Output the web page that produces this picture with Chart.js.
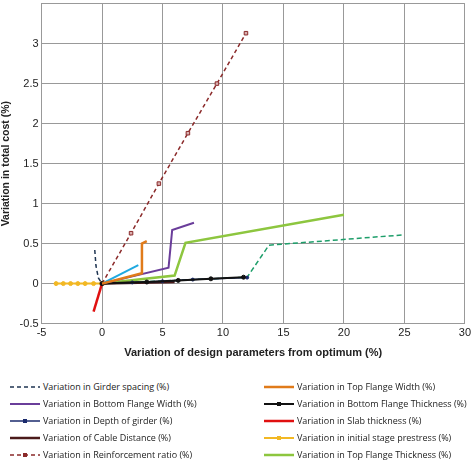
<!DOCTYPE html>
<html>
<head>
<meta charset="utf-8">
<script src="https://cdn.jsdelivr.net/npm/chart.js@4/dist/chart.umd.min.js"></script>
<style>
  body { margin: 0; background: #fff; font-family: "Open Sans", sans-serif; }
  #wrap { position: relative; width: 474px; height: 370px; margin-top: -6px; }
  #legend { display: grid; grid-template-columns: 254px 220px; row-gap: 4px; padding-left: 10px; margin-top: 16px; font-size: 9px; color: #222; }
  #legend div { display: flex; align-items: center; white-space: nowrap; }
  #legend canvas { margin-right: 3px; }
</style>
</head>
<body>
<div id="wrap"><canvas id="c"></canvas></div>
<div id="legend"></div>
<script>
// x = variation of design parameter (%), y = variation in total cost (%)
const girderX = [-0.6, -0.5, -0.3, 0];
const girderY = [0.42, 0.22, 0.07, 0];
const topWidthX = [0, 3.3, 3.3, 3.7];
const topWidthY = [0, 0.13, 0.5, 0.53];
const botWidthX = [0, 5.5, 5.8, 7.6];
const botWidthY = [0, 0.2, 0.67, 0.76];
const botThickX = [0, 3.7, 6.3, 9, 11.7];
const botThickY = [0, 0.02, 0.04, 0.06, 0.08];
const depthX = [0, 2.5, 5, 7.5, 12];
const depthY = [0, 0.015, 0.03, 0.05, 0.075];
const slabX = [0, -0.7];
const slabY = [0, -0.35];
const cableX = [0, 6];
const cableY = [0, 0.02];
const prestressX = [-3.8, -3.2, -2.6, -2, -1.4, -0.7, 0];
const prestressY = [0, 0, 0, 0, 0, 0, 0];
const reinfX = [0, 2.4, 4.7, 7.1, 9.5, 11.9];
const reinfY = [0, 0.63, 1.25, 1.88, 2.5, 3.13];
const topThickX = [0, 6, 6.9, 20];
const topThickY = [0, 0.1, 0.51, 0.86];
const cyanX = [0, 3.0];
const cyanY = [0, 0.23];
const tealX = [0, 12, 13.8, 25];
const tealY = [0, 0.08, 0.48, 0.61];

function pts(xs, ys) { return xs.map((x, i) => ({ x: x, y: ys[i] })); }

// order = legend order (row by row, two columns)
const series = [
  { label: 'Variation in Girder spacing (%)', d: pts(girderX, girderY), color: '#1f3552', dash: [4, 3], w: 1.5 },
  { label: 'Variation in Top Flange Width (%)', d: pts(topWidthX, topWidthY), color: '#e07b1a', w: 2.5 },
  { label: 'Variation in Bottom Flange Width (%)', d: pts(botWidthX, botWidthY), color: '#6a3d9a', w: 2 },
  { label: 'Variation in Bottom Flange Thickness (%)', d: pts(botThickX, botThickY), color: '#111', w: 2, pr: 2 },
  { label: 'Variation in Depth of girder (%)', d: pts(depthX, depthY), color: '#1a2a6c', w: 1.5, pr: 1.5 },
  { label: 'Variation in Slab thickness (%)', d: pts(slabX, slabY), color: '#e01010', w: 2.5 },
  { label: 'Variation of Cable Distance (%)', d: pts(cableX, cableY), color: '#4a1a1a', w: 2.5 },
  { label: 'Variation in initial stage prestress (%)', d: pts(prestressX, prestressY), color: '#f2b824', w: 2, pr: 2 },
  { label: 'Variation in Reinforcement ratio (%)', d: pts(reinfX, reinfY), color: '#8b2a2a', dash: [4, 3], w: 1.5, pr: 2.5, ps: 'rect', pbg: '#d9b0b0' },
  { label: 'Variation in Top Flange Thickness (%)', d: pts(topThickX, topThickY), color: '#8dc63f', w: 2.5 },
  { label: '', d: pts(cyanX, cyanY), color: '#1fa9e0', w: 2 },
  { label: '', d: pts(tealX, tealY), color: '#1e9e6a', dash: [5, 3], w: 1.5 }
];

const datasets = series.map(s => ({
  label: s.label,
  data: s.d,
  borderColor: s.color,
  backgroundColor: s.pbg || s.color,
  borderWidth: s.w,
  borderDash: s.dash || [],
  pointRadius: s.pr || 0,
  pointStyle: s.ps || 'circle',
  pointBorderWidth: 1,
  tension: 0,
  fill: false
}));

new Chart(document.getElementById('c'), {
  type: 'line',
  data: { datasets: datasets },
  options: {
    responsive: true,
    maintainAspectRatio: false,
    animation: false,
    layout: { padding: { right: 6, top: 0, left: -4 } },
    plugins: { legend: { display: false }, tooltip: { enabled: false } },
    scales: {
      x: {
        type: 'linear', min: -5, max: 30,
        ticks: { stepSize: 5, color: '#222', font: { size: 11 } },
        grid: { color: '#999', tickLength: 0 },
        border: { color: '#999' },
        title: { display: true, text: 'Variation of design parameters from optimum (%)', color: '#222', font: { size: 11, weight: 'bold' } }
      },
      y: {
        type: 'linear', min: -0.5, max: 3.5,
        ticks: { stepSize: 0.5, color: '#222', font: { size: 11 }, callback: v => (v > 3.2 ? '' : v) },
        grid: { color: '#999', tickLength: 0 },
        border: { color: '#999' },
        title: { display: true, text: 'Variation in total cost (%)', color: '#222', font: { size: 10.5, weight: 'bold' } }
      }
    }
  }
});

// two-column legend like the original
const leg = document.getElementById('legend');
series.filter(s => s.label).forEach(s => {
  const item = document.createElement('div');
  const cv = document.createElement('canvas');
  cv.width = 30; cv.height = 10;
  const g = cv.getContext('2d');
  g.strokeStyle = s.color; g.lineWidth = s.w;
  g.setLineDash(s.dash || []);
  g.beginPath(); g.moveTo(0, 5); g.lineTo(30, 5); g.stroke();
  if (s.pr) { g.fillStyle = s.color; g.fillRect(13, 3, 4, 4); }
  item.appendChild(cv);
  item.appendChild(document.createTextNode(s.label));
  leg.appendChild(item);
});
</script>
</body>
</html>
